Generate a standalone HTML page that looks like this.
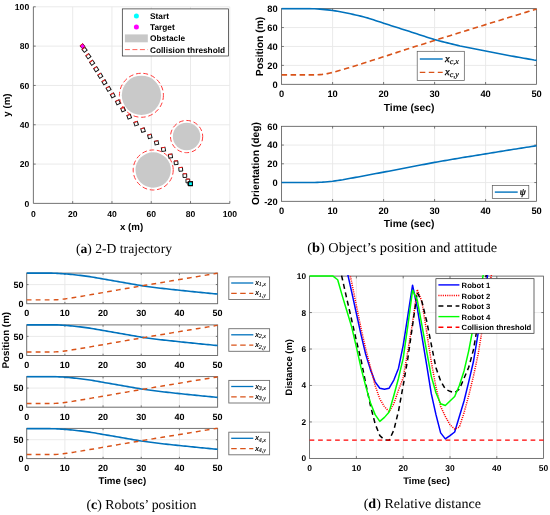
<!DOCTYPE html>
<html lang="en"><head><meta charset="utf-8"><title>Figure</title>
<style>html,body{margin:0;padding:0;background:#fff}svg{display:block}text{text-rendering:geometricPrecision}</style>
</head><body>
<svg width="550" height="515" viewBox="0 0 550 515">
<rect width="550" height="515" fill="#fff"/>
<defs>
<clipPath id="cb1"><rect x="281.1" y="7.45" width="256" height="78.05"/></clipPath>
<clipPath id="cb2"><rect x="281.1" y="125.1" width="256" height="77.4"/></clipPath>
<clipPath id="cc0"><rect x="26.2" y="271.9" width="191.9" height="33"/></clipPath>
<clipPath id="cc1"><rect x="26.2" y="323.7" width="191.9" height="33"/></clipPath>
<clipPath id="cc2"><rect x="26.2" y="375.4" width="191.9" height="33"/></clipPath>
<clipPath id="cc3"><rect x="26.2" y="427.2" width="191.9" height="32.6"/></clipPath>
<clipPath id="cd"><rect x="309.1" y="274.9" width="235" height="184.7"/></clipPath>
</defs>
<line x1="33.4" y1="6.8" x2="33.4" y2="203.4" stroke="#e8e8e8" stroke-width="0.9" />
<line x1="72.68" y1="6.8" x2="72.68" y2="203.4" stroke="#e8e8e8" stroke-width="0.9" />
<line x1="111.96" y1="6.8" x2="111.96" y2="203.4" stroke="#e8e8e8" stroke-width="0.9" />
<line x1="151.24" y1="6.8" x2="151.24" y2="203.4" stroke="#e8e8e8" stroke-width="0.9" />
<line x1="190.52" y1="6.8" x2="190.52" y2="203.4" stroke="#e8e8e8" stroke-width="0.9" />
<line x1="229.8" y1="6.8" x2="229.8" y2="203.4" stroke="#e8e8e8" stroke-width="0.9" />
<line x1="33.4" y1="203.4" x2="229.8" y2="203.4" stroke="#e8e8e8" stroke-width="0.9" />
<line x1="33.4" y1="164.08" x2="229.8" y2="164.08" stroke="#e8e8e8" stroke-width="0.9" />
<line x1="33.4" y1="124.76" x2="229.8" y2="124.76" stroke="#e8e8e8" stroke-width="0.9" />
<line x1="33.4" y1="85.44" x2="229.8" y2="85.44" stroke="#e8e8e8" stroke-width="0.9" />
<line x1="33.4" y1="46.12" x2="229.8" y2="46.12" stroke="#e8e8e8" stroke-width="0.9" />
<line x1="33.4" y1="6.8" x2="229.8" y2="6.8" stroke="#e8e8e8" stroke-width="0.9" />
<circle cx="141.42" cy="95.27" r="19.64" fill="#c9c9c9"/>
<circle cx="141.42" cy="95.27" r="22" fill="none" stroke="#ff3a3a" stroke-width="1" stroke-dasharray="4.8 2.7"/>
<circle cx="186.59" cy="136.56" r="13.75" fill="#c9c9c9"/>
<circle cx="186.59" cy="136.56" r="16.1" fill="none" stroke="#ff3a3a" stroke-width="1" stroke-dasharray="4.8 2.7"/>
<circle cx="153.2" cy="169.98" r="17.68" fill="#c9c9c9"/>
<circle cx="153.2" cy="169.98" r="20.03" fill="none" stroke="#ff3a3a" stroke-width="1" stroke-dasharray="4.8 2.7"/>
<g transform="translate(190.52 183.74) rotate(0)"><rect x="-1.85" y="-1.85" width="3.7" height="3.7" fill="none" stroke="#111" stroke-width="0.95"/><line x1="-1.85" y1="-1.85" x2="1.85" y2="-1.85" stroke="#ff2020" stroke-width="0.95"/></g>
<g transform="translate(190.52 183.74) rotate(0)"><rect x="-1.85" y="-1.85" width="3.7" height="3.7" fill="none" stroke="#111" stroke-width="0.95"/><line x1="-1.85" y1="-1.85" x2="1.85" y2="-1.85" stroke="#ff2020" stroke-width="0.95"/></g>
<g transform="translate(190.52 183.74) rotate(0)"><rect x="-1.85" y="-1.85" width="3.7" height="3.7" fill="none" stroke="#111" stroke-width="0.95"/><line x1="-1.85" y1="-1.85" x2="1.85" y2="-1.85" stroke="#ff2020" stroke-width="0.95"/></g>
<g transform="translate(189.76 183.58) rotate(-0.22)"><rect x="-1.85" y="-1.85" width="3.7" height="3.7" fill="none" stroke="#111" stroke-width="0.95"/><line x1="-1.85" y1="-1.85" x2="1.85" y2="-1.85" stroke="#ff2020" stroke-width="0.95"/></g>
<g transform="translate(187.85 180.95) rotate(-0.95)"><rect x="-1.85" y="-1.85" width="3.7" height="3.7" fill="none" stroke="#111" stroke-width="0.95"/><line x1="-1.85" y1="-1.85" x2="1.85" y2="-1.85" stroke="#ff2020" stroke-width="0.95"/></g>
<g transform="translate(184.84 175.58) rotate(-2.28)"><rect x="-1.85" y="-1.85" width="3.7" height="3.7" fill="none" stroke="#111" stroke-width="0.95"/><line x1="-1.85" y1="-1.85" x2="1.85" y2="-1.85" stroke="#ff2020" stroke-width="0.95"/></g>
<g transform="translate(180.73 169.32) rotate(-4.1)"><rect x="-1.85" y="-1.85" width="3.7" height="3.7" fill="none" stroke="#111" stroke-width="0.95"/><line x1="-1.85" y1="-1.85" x2="1.85" y2="-1.85" stroke="#ff2020" stroke-width="0.95"/></g>
<g transform="translate(176.07 162.76) rotate(-6.1)"><rect x="-1.85" y="-1.85" width="3.7" height="3.7" fill="none" stroke="#111" stroke-width="0.95"/><line x1="-1.85" y1="-1.85" x2="1.85" y2="-1.85" stroke="#ff2020" stroke-width="0.95"/></g>
<g transform="translate(170.47 156.03) rotate(-8.14)"><rect x="-1.85" y="-1.85" width="3.7" height="3.7" fill="none" stroke="#111" stroke-width="0.95"/><line x1="-1.85" y1="-1.85" x2="1.85" y2="-1.85" stroke="#ff2020" stroke-width="0.95"/></g>
<g transform="translate(163.46 149.38) rotate(-10.18)"><rect x="-1.85" y="-1.85" width="3.7" height="3.7" fill="none" stroke="#111" stroke-width="0.95"/><line x1="-1.85" y1="-1.85" x2="1.85" y2="-1.85" stroke="#ff2020" stroke-width="0.95"/></g>
<g transform="translate(156.56 142.82) rotate(-12.24)"><rect x="-1.85" y="-1.85" width="3.7" height="3.7" fill="none" stroke="#111" stroke-width="0.95"/><line x1="-1.85" y1="-1.85" x2="1.85" y2="-1.85" stroke="#ff2020" stroke-width="0.95"/></g>
<g transform="translate(149.8 136.43) rotate(-14.32)"><rect x="-1.85" y="-1.85" width="3.7" height="3.7" fill="none" stroke="#111" stroke-width="0.95"/><line x1="-1.85" y1="-1.85" x2="1.85" y2="-1.85" stroke="#ff2020" stroke-width="0.95"/></g>
<g transform="translate(143.03 130.09) rotate(-16.4)"><rect x="-1.85" y="-1.85" width="3.7" height="3.7" fill="none" stroke="#111" stroke-width="0.95"/><line x1="-1.85" y1="-1.85" x2="1.85" y2="-1.85" stroke="#ff2020" stroke-width="0.95"/></g>
<g transform="translate(136.13 123.64) rotate(-18.48)"><rect x="-1.85" y="-1.85" width="3.7" height="3.7" fill="none" stroke="#111" stroke-width="0.95"/><line x1="-1.85" y1="-1.85" x2="1.85" y2="-1.85" stroke="#ff2020" stroke-width="0.95"/></g>
<g transform="translate(129.21 116.67) rotate(-20.56)"><rect x="-1.85" y="-1.85" width="3.7" height="3.7" fill="none" stroke="#111" stroke-width="0.95"/><line x1="-1.85" y1="-1.85" x2="1.85" y2="-1.85" stroke="#ff2020" stroke-width="0.95"/></g>
<g transform="translate(123.1 109.45) rotate(-22.53)"><rect x="-1.85" y="-1.85" width="3.7" height="3.7" fill="none" stroke="#111" stroke-width="0.95"/><line x1="-1.85" y1="-1.85" x2="1.85" y2="-1.85" stroke="#ff2020" stroke-width="0.95"/></g>
<g transform="translate(117.89 102.34) rotate(-24.41)"><rect x="-1.85" y="-1.85" width="3.7" height="3.7" fill="none" stroke="#111" stroke-width="0.95"/><line x1="-1.85" y1="-1.85" x2="1.85" y2="-1.85" stroke="#ff2020" stroke-width="0.95"/></g>
<g transform="translate(112.77 95.47) rotate(-26.28)"><rect x="-1.85" y="-1.85" width="3.7" height="3.7" fill="none" stroke="#111" stroke-width="0.95"/><line x1="-1.85" y1="-1.85" x2="1.85" y2="-1.85" stroke="#ff2020" stroke-width="0.95"/></g>
<g transform="translate(108.57 88.84) rotate(-28.05)"><rect x="-1.85" y="-1.85" width="3.7" height="3.7" fill="none" stroke="#111" stroke-width="0.95"/><line x1="-1.85" y1="-1.85" x2="1.85" y2="-1.85" stroke="#ff2020" stroke-width="0.95"/></g>
<g transform="translate(104.41 82.29) rotate(-29.81)"><rect x="-1.85" y="-1.85" width="3.7" height="3.7" fill="none" stroke="#111" stroke-width="0.95"/><line x1="-1.85" y1="-1.85" x2="1.85" y2="-1.85" stroke="#ff2020" stroke-width="0.95"/></g>
<g transform="translate(100.29 75.76) rotate(-31.57)"><rect x="-1.85" y="-1.85" width="3.7" height="3.7" fill="none" stroke="#111" stroke-width="0.95"/><line x1="-1.85" y1="-1.85" x2="1.85" y2="-1.85" stroke="#ff2020" stroke-width="0.95"/></g>
<g transform="translate(96.2 69.23) rotate(-33.33)"><rect x="-1.85" y="-1.85" width="3.7" height="3.7" fill="none" stroke="#111" stroke-width="0.95"/><line x1="-1.85" y1="-1.85" x2="1.85" y2="-1.85" stroke="#ff2020" stroke-width="0.95"/></g>
<g transform="translate(92.14 62.71) rotate(-35.08)"><rect x="-1.85" y="-1.85" width="3.7" height="3.7" fill="none" stroke="#111" stroke-width="0.95"/><line x1="-1.85" y1="-1.85" x2="1.85" y2="-1.85" stroke="#ff2020" stroke-width="0.95"/></g>
<g transform="translate(88.36 56.26) rotate(-36.81)"><rect x="-1.85" y="-1.85" width="3.7" height="3.7" fill="none" stroke="#111" stroke-width="0.95"/><line x1="-1.85" y1="-1.85" x2="1.85" y2="-1.85" stroke="#ff2020" stroke-width="0.95"/></g>
<g transform="translate(84.59 49.81) rotate(-38.53)"><rect x="-1.85" y="-1.85" width="3.7" height="3.7" fill="none" stroke="#111" stroke-width="0.95"/><line x1="-1.85" y1="-1.85" x2="1.85" y2="-1.85" stroke="#ff2020" stroke-width="0.95"/></g>
<g transform="translate(82.5 46.12) rotate(-39)"><rect x="-1.8" y="-1.8" width="3.6" height="3.6" fill="#ff00ff" stroke="#7a0030" stroke-width="0.8"/><line x1="-1.8" y1="-1.8" x2="1.8" y2="-1.8" stroke="#ff2020" stroke-width="0.8"/></g>
<g transform="translate(190.52 183.74) rotate(0)"><rect x="-1.85" y="-1.85" width="3.7" height="3.7" fill="#00ffff" stroke="#000" stroke-width="1.0"/></g>
<path d="M33.4 6.8 L33.4 203.4 L229.8 203.4" fill="none" stroke="#505050" stroke-width="0.75" />
<line x1="72.68" y1="203.4" x2="72.68" y2="201.1" stroke="#505050" stroke-width="0.75" />
<line x1="111.96" y1="203.4" x2="111.96" y2="201.1" stroke="#505050" stroke-width="0.75" />
<line x1="151.24" y1="203.4" x2="151.24" y2="201.1" stroke="#505050" stroke-width="0.75" />
<line x1="190.52" y1="203.4" x2="190.52" y2="201.1" stroke="#505050" stroke-width="0.75" />
<line x1="229.8" y1="203.4" x2="229.8" y2="201.1" stroke="#505050" stroke-width="0.75" />
<line x1="33.4" y1="164.08" x2="35.7" y2="164.08" stroke="#505050" stroke-width="0.75" />
<line x1="33.4" y1="124.76" x2="35.7" y2="124.76" stroke="#505050" stroke-width="0.75" />
<line x1="33.4" y1="85.44" x2="35.7" y2="85.44" stroke="#505050" stroke-width="0.75" />
<line x1="33.4" y1="46.12" x2="35.7" y2="46.12" stroke="#505050" stroke-width="0.75" />
<line x1="33.4" y1="6.8" x2="35.7" y2="6.8" stroke="#505050" stroke-width="0.75" />
<text x="33.4" y="216.6" font-size="8.6" font-weight="bold" text-anchor="middle" font-family='"Liberation Sans", Arial, Helvetica, sans-serif' fill="#000" >0</text>
<text x="72.68" y="216.6" font-size="8.6" font-weight="bold" text-anchor="middle" font-family='"Liberation Sans", Arial, Helvetica, sans-serif' fill="#000" >20</text>
<text x="111.96" y="216.6" font-size="8.6" font-weight="bold" text-anchor="middle" font-family='"Liberation Sans", Arial, Helvetica, sans-serif' fill="#000" >40</text>
<text x="151.24" y="216.6" font-size="8.6" font-weight="bold" text-anchor="middle" font-family='"Liberation Sans", Arial, Helvetica, sans-serif' fill="#000" >60</text>
<text x="190.52" y="216.6" font-size="8.6" font-weight="bold" text-anchor="middle" font-family='"Liberation Sans", Arial, Helvetica, sans-serif' fill="#000" >80</text>
<text x="229.8" y="216.6" font-size="8.6" font-weight="bold" text-anchor="middle" font-family='"Liberation Sans", Arial, Helvetica, sans-serif' fill="#000" >100</text>
<text x="29.2" y="206.5" font-size="8.6" font-weight="bold" text-anchor="end" font-family='"Liberation Sans", Arial, Helvetica, sans-serif' fill="#000" >0</text>
<text x="29.2" y="167.18" font-size="8.6" font-weight="bold" text-anchor="end" font-family='"Liberation Sans", Arial, Helvetica, sans-serif' fill="#000" >20</text>
<text x="29.2" y="127.86" font-size="8.6" font-weight="bold" text-anchor="end" font-family='"Liberation Sans", Arial, Helvetica, sans-serif' fill="#000" >40</text>
<text x="29.2" y="88.54" font-size="8.6" font-weight="bold" text-anchor="end" font-family='"Liberation Sans", Arial, Helvetica, sans-serif' fill="#000" >60</text>
<text x="29.2" y="49.22" font-size="8.6" font-weight="bold" text-anchor="end" font-family='"Liberation Sans", Arial, Helvetica, sans-serif' fill="#000" >80</text>
<text x="29.2" y="9.9" font-size="8.6" font-weight="bold" text-anchor="end" font-family='"Liberation Sans", Arial, Helvetica, sans-serif' fill="#000" >100</text>
<text x="131.6" y="230.3" font-size="9.7" font-weight="bold" text-anchor="middle" font-family='"Liberation Sans", Arial, Helvetica, sans-serif' fill="#000" >x (m)</text>
<text transform="translate(10.4 105.1) rotate(-90)" font-size="9.7" font-weight="bold" text-anchor="middle" font-family='"Liberation Sans", Arial, Helvetica, sans-serif' fill="#000" >y (m)</text>
<rect x="122.3" y="8.9" width="106.2" height="47.1" fill="#fff" stroke="#262626" stroke-width="0.7"/>
<circle cx="136.4" cy="15.9" r="2.5" fill="#00ffff"/>
<circle cx="136.4" cy="27.1" r="2.5" fill="#ff00ff"/>
<rect x="124.9" y="34.4" width="22.9" height="7.9" fill="#c8c8c8"/>
<line x1="124.9" y1="49.6" x2="147.8" y2="49.6" stroke="#ff3b30" stroke-width="0.8" stroke-dasharray="5 2.5"/>
<text x="150" y="18.9" font-size="8.3" font-weight="bold" text-anchor="start" font-family='"Liberation Sans", Arial, Helvetica, sans-serif' fill="#000" >Start</text>
<text x="150" y="30.17" font-size="8.3" font-weight="bold" text-anchor="start" font-family='"Liberation Sans", Arial, Helvetica, sans-serif' fill="#000" >Target</text>
<text x="150" y="41.44" font-size="8.3" font-weight="bold" text-anchor="start" font-family='"Liberation Sans", Arial, Helvetica, sans-serif' fill="#000" >Obstacle</text>
<text x="150" y="52.71" font-size="8.3" font-weight="bold" text-anchor="start" font-family='"Liberation Sans", Arial, Helvetica, sans-serif' fill="#000" >Collision threshold</text>
<text x="124" y="253.2" font-size="13.6" font-weight="normal" text-anchor="middle" font-family='"Liberation Serif", "DejaVu Serif", serif' fill="#000" textLength="96" lengthAdjust="spacingAndGlyphs">(<tspan font-weight="bold">a</tspan>) 2-D trajectory</text>
<line x1="281.6" y1="8.65" x2="281.6" y2="84.3" stroke="#e8e8e8" stroke-width="0.9" />
<line x1="332.6" y1="8.65" x2="332.6" y2="84.3" stroke="#e8e8e8" stroke-width="0.9" />
<line x1="383.6" y1="8.65" x2="383.6" y2="84.3" stroke="#e8e8e8" stroke-width="0.9" />
<line x1="434.6" y1="8.65" x2="434.6" y2="84.3" stroke="#e8e8e8" stroke-width="0.9" />
<line x1="485.6" y1="8.65" x2="485.6" y2="84.3" stroke="#e8e8e8" stroke-width="0.9" />
<line x1="536.6" y1="8.65" x2="536.6" y2="84.3" stroke="#e8e8e8" stroke-width="0.9" />
<line x1="281.6" y1="84.3" x2="536.6" y2="84.3" stroke="#e8e8e8" stroke-width="0.9" />
<line x1="281.6" y1="65.39" x2="536.6" y2="65.39" stroke="#e8e8e8" stroke-width="0.9" />
<line x1="281.6" y1="46.48" x2="536.6" y2="46.48" stroke="#e8e8e8" stroke-width="0.9" />
<line x1="281.6" y1="27.56" x2="536.6" y2="27.56" stroke="#e8e8e8" stroke-width="0.9" />
<line x1="281.6" y1="8.65" x2="536.6" y2="8.65" stroke="#e8e8e8" stroke-width="0.9" />
<rect x="281.6" y="8.65" width="255" height="75.65" fill="none" stroke="#505050" stroke-width="0.75"/>
<line x1="332.6" y1="84.3" x2="332.6" y2="82" stroke="#505050" stroke-width="0.75" />
<line x1="332.6" y1="8.65" x2="332.6" y2="10.95" stroke="#505050" stroke-width="0.75" />
<line x1="383.6" y1="84.3" x2="383.6" y2="82" stroke="#505050" stroke-width="0.75" />
<line x1="383.6" y1="8.65" x2="383.6" y2="10.95" stroke="#505050" stroke-width="0.75" />
<line x1="434.6" y1="84.3" x2="434.6" y2="82" stroke="#505050" stroke-width="0.75" />
<line x1="434.6" y1="8.65" x2="434.6" y2="10.95" stroke="#505050" stroke-width="0.75" />
<line x1="485.6" y1="84.3" x2="485.6" y2="82" stroke="#505050" stroke-width="0.75" />
<line x1="485.6" y1="8.65" x2="485.6" y2="10.95" stroke="#505050" stroke-width="0.75" />
<line x1="281.6" y1="65.39" x2="283.9" y2="65.39" stroke="#505050" stroke-width="0.75" />
<line x1="536.6" y1="65.39" x2="534.3" y2="65.39" stroke="#505050" stroke-width="0.75" />
<line x1="281.6" y1="46.48" x2="283.9" y2="46.48" stroke="#505050" stroke-width="0.75" />
<line x1="536.6" y1="46.48" x2="534.3" y2="46.48" stroke="#505050" stroke-width="0.75" />
<line x1="281.6" y1="27.56" x2="283.9" y2="27.56" stroke="#505050" stroke-width="0.75" />
<line x1="536.6" y1="27.56" x2="534.3" y2="27.56" stroke="#505050" stroke-width="0.75" />
<path d="M281.6 8.65 L284.15 8.65 L286.7 8.65 L289.25 8.65 L291.8 8.65 L294.35 8.65 L296.9 8.65 L299.45 8.65 L302 8.65 L304.55 8.65 L307.1 8.65 L309.65 8.65 L312.2 8.68 L314.75 8.82 L317.3 8.98 L319.85 9.15 L322.4 9.33 L324.95 9.6 L327.5 9.88 L330.05 10.16 L332.6 10.47 L335.15 10.87 L337.7 11.3 L340.25 11.72 L342.8 12.17 L345.35 12.7 L347.9 13.25 L350.45 13.8 L353 14.36 L355.55 14.91 L358.1 15.48 L360.65 16.12 L363.2 16.78 L365.75 17.44 L368.3 18.14 L370.85 18.96 L373.4 19.81 L375.95 20.66 L378.5 21.51 L381.05 22.36 L383.6 23.21 L386.15 24.03 L388.7 24.84 L391.25 25.65 L393.8 26.47 L396.35 27.28 L398.9 28.09 L401.45 28.91 L404 29.72 L406.55 30.53 L409.1 31.35 L411.65 32.18 L414.2 33.01 L416.75 33.84 L419.3 34.67 L421.85 35.51 L424.4 36.34 L426.95 37.17 L429.5 38 L432.05 38.83 L434.6 39.63 L437.15 40.33 L439.7 40.98 L442.25 41.62 L444.8 42.24 L447.35 42.87 L449.9 43.5 L452.45 44.12 L455 44.75 L457.55 45.38 L460.1 45.98 L462.65 46.5 L465.2 47 L467.75 47.51 L470.3 48.01 L472.85 48.51 L475.4 49.01 L477.95 49.51 L480.5 50.01 L483.05 50.51 L485.6 51.01 L488.15 51.51 L490.7 52 L493.25 52.49 L495.8 52.98 L498.35 53.47 L500.9 53.96 L503.45 54.46 L506 54.95 L508.55 55.44 L511.1 55.92 L513.65 56.39 L516.2 56.84 L518.75 57.29 L521.3 57.75 L523.85 58.2 L526.4 58.65 L528.95 59.11 L531.5 59.56 L534.05 60.02 L536.6 60.38" fill="none" stroke="#0072BD" stroke-width="1.6" clip-path="url(#cb1)" stroke-linejoin="round"/>
<path d="M281.6 74.84 L284.15 74.84 L286.7 74.84 L289.25 74.84 L291.8 74.84 L294.35 74.84 L296.9 74.84 L299.45 74.84 L302 74.84 L304.55 74.84 L307.1 74.84 L309.65 74.84 L312.2 74.84 L314.75 74.84 L317.3 74.8 L319.85 74.62 L322.4 74.4 L324.95 74.12 L327.5 73.61 L330.05 73.05 L332.6 72.45 L335.15 71.77 L337.7 71.06 L340.25 70.35 L342.8 69.63 L345.35 68.85 L347.9 68.07 L350.45 67.28 L353 66.49 L355.55 65.7 L358.1 64.91 L360.65 64.1 L363.2 63.29 L365.75 62.47 L368.3 61.66 L370.85 60.85 L373.4 60.04 L375.95 59.22 L378.5 58.41 L381.05 57.6 L383.6 56.78 L386.15 55.95 L388.7 55.12 L391.25 54.29 L393.8 53.45 L396.35 52.62 L398.9 51.79 L401.45 50.96 L404 50.13 L406.55 49.29 L409.1 48.47 L411.65 47.66 L414.2 46.85 L416.75 46.05 L419.3 45.25 L421.85 44.44 L424.4 43.64 L426.95 42.83 L429.5 42.03 L432.05 41.23 L434.6 40.42 L437.15 39.63 L439.7 38.83 L442.25 38.04 L444.8 37.25 L447.35 36.45 L449.9 35.66 L452.45 34.86 L455 34.07 L457.55 33.27 L460.1 32.48 L462.65 31.69 L465.2 30.91 L467.75 30.13 L470.3 29.34 L472.85 28.56 L475.4 27.77 L477.95 26.99 L480.5 26.2 L483.05 25.42 L485.6 24.63 L488.15 23.85 L490.7 23.06 L493.25 22.28 L495.8 21.49 L498.35 20.71 L500.9 19.92 L503.45 19.14 L506 18.35 L508.55 17.57 L511.1 16.78 L513.65 16.01 L516.2 15.23 L518.75 14.46 L521.3 13.68 L523.85 12.91 L526.4 12.13 L528.95 11.35 L531.5 10.58 L534.05 9.8 L536.6 9.18" fill="none" stroke="#D95319" stroke-width="1.6" clip-path="url(#cb1)" stroke-dasharray="5.5 3.5"/>
<text x="281.6" y="97.2" font-size="9.3" font-weight="bold" text-anchor="middle" font-family='"Liberation Sans", Arial, Helvetica, sans-serif' fill="#000" >0</text>
<text x="332.6" y="97.2" font-size="9.3" font-weight="bold" text-anchor="middle" font-family='"Liberation Sans", Arial, Helvetica, sans-serif' fill="#000" >10</text>
<text x="383.6" y="97.2" font-size="9.3" font-weight="bold" text-anchor="middle" font-family='"Liberation Sans", Arial, Helvetica, sans-serif' fill="#000" >20</text>
<text x="434.6" y="97.2" font-size="9.3" font-weight="bold" text-anchor="middle" font-family='"Liberation Sans", Arial, Helvetica, sans-serif' fill="#000" >30</text>
<text x="485.6" y="97.2" font-size="9.3" font-weight="bold" text-anchor="middle" font-family='"Liberation Sans", Arial, Helvetica, sans-serif' fill="#000" >40</text>
<text x="536.6" y="97.2" font-size="9.3" font-weight="bold" text-anchor="middle" font-family='"Liberation Sans", Arial, Helvetica, sans-serif' fill="#000" >50</text>
<text x="277.6" y="87.6" font-size="9.3" font-weight="bold" text-anchor="end" font-family='"Liberation Sans", Arial, Helvetica, sans-serif' fill="#000" >0</text>
<text x="277.6" y="68.69" font-size="9.3" font-weight="bold" text-anchor="end" font-family='"Liberation Sans", Arial, Helvetica, sans-serif' fill="#000" >20</text>
<text x="277.6" y="49.77" font-size="9.3" font-weight="bold" text-anchor="end" font-family='"Liberation Sans", Arial, Helvetica, sans-serif' fill="#000" >40</text>
<text x="277.6" y="30.86" font-size="9.3" font-weight="bold" text-anchor="end" font-family='"Liberation Sans", Arial, Helvetica, sans-serif' fill="#000" >60</text>
<text x="277.6" y="11.95" font-size="9.3" font-weight="bold" text-anchor="end" font-family='"Liberation Sans", Arial, Helvetica, sans-serif' fill="#000" >80</text>
<text x="409.1" y="111.3" font-size="10.3" font-weight="bold" text-anchor="middle" font-family='"Liberation Sans", Arial, Helvetica, sans-serif' fill="#000" >Time (sec)</text>
<text transform="translate(263.3 46.48) rotate(-90)" font-size="10.3" font-weight="bold" text-anchor="middle" font-family='"Liberation Sans", Arial, Helvetica, sans-serif' fill="#000" >Position (m)</text>
<rect x="417.2" y="51.3" width="47.1" height="29.1" fill="#fff" stroke="#555" stroke-width="0.7"/>
<line x1="419.8" y1="59" x2="442.7" y2="59" stroke="#0072BD" stroke-width="1.4" />
<line x1="419.8" y1="72.4" x2="442.7" y2="72.4" stroke="#D95319" stroke-width="1.4" stroke-dasharray="5.5 3.5"/>
<text x="445" y="61.5" font-family='"Liberation Serif", "DejaVu Serif", serif' font-style="italic" font-size="10.6" fill="#000" stroke="#000" stroke-width="0.3">x<tspan font-size="8" dy="2.1" stroke-width="0.18">c,x</tspan></text>
<text x="445" y="74.6" font-family='"Liberation Serif", "DejaVu Serif", serif' font-style="italic" font-size="10.6" fill="#000" stroke="#000" stroke-width="0.3">x<tspan font-size="8" dy="2.1" stroke-width="0.18">c,y</tspan></text>
<line x1="281.6" y1="126.3" x2="281.6" y2="201.3" stroke="#e8e8e8" stroke-width="0.9" />
<line x1="332.6" y1="126.3" x2="332.6" y2="201.3" stroke="#e8e8e8" stroke-width="0.9" />
<line x1="383.6" y1="126.3" x2="383.6" y2="201.3" stroke="#e8e8e8" stroke-width="0.9" />
<line x1="434.6" y1="126.3" x2="434.6" y2="201.3" stroke="#e8e8e8" stroke-width="0.9" />
<line x1="485.6" y1="126.3" x2="485.6" y2="201.3" stroke="#e8e8e8" stroke-width="0.9" />
<line x1="536.6" y1="126.3" x2="536.6" y2="201.3" stroke="#e8e8e8" stroke-width="0.9" />
<line x1="281.6" y1="201.3" x2="536.6" y2="201.3" stroke="#e8e8e8" stroke-width="0.9" />
<line x1="281.6" y1="182.55" x2="536.6" y2="182.55" stroke="#e8e8e8" stroke-width="0.9" />
<line x1="281.6" y1="163.8" x2="536.6" y2="163.8" stroke="#e8e8e8" stroke-width="0.9" />
<line x1="281.6" y1="145.05" x2="536.6" y2="145.05" stroke="#e8e8e8" stroke-width="0.9" />
<line x1="281.6" y1="126.3" x2="536.6" y2="126.3" stroke="#e8e8e8" stroke-width="0.9" />
<rect x="281.6" y="126.3" width="255" height="75" fill="none" stroke="#505050" stroke-width="0.75"/>
<line x1="332.6" y1="201.3" x2="332.6" y2="199" stroke="#505050" stroke-width="0.75" />
<line x1="332.6" y1="126.3" x2="332.6" y2="128.6" stroke="#505050" stroke-width="0.75" />
<line x1="383.6" y1="201.3" x2="383.6" y2="199" stroke="#505050" stroke-width="0.75" />
<line x1="383.6" y1="126.3" x2="383.6" y2="128.6" stroke="#505050" stroke-width="0.75" />
<line x1="434.6" y1="201.3" x2="434.6" y2="199" stroke="#505050" stroke-width="0.75" />
<line x1="434.6" y1="126.3" x2="434.6" y2="128.6" stroke="#505050" stroke-width="0.75" />
<line x1="485.6" y1="201.3" x2="485.6" y2="199" stroke="#505050" stroke-width="0.75" />
<line x1="485.6" y1="126.3" x2="485.6" y2="128.6" stroke="#505050" stroke-width="0.75" />
<line x1="281.6" y1="182.55" x2="283.9" y2="182.55" stroke="#505050" stroke-width="0.75" />
<line x1="536.6" y1="182.55" x2="534.3" y2="182.55" stroke="#505050" stroke-width="0.75" />
<line x1="281.6" y1="163.8" x2="283.9" y2="163.8" stroke="#505050" stroke-width="0.75" />
<line x1="536.6" y1="163.8" x2="534.3" y2="163.8" stroke="#505050" stroke-width="0.75" />
<line x1="281.6" y1="145.05" x2="283.9" y2="145.05" stroke="#505050" stroke-width="0.75" />
<line x1="536.6" y1="145.05" x2="534.3" y2="145.05" stroke="#505050" stroke-width="0.75" />
<path d="M281.6 182.55 L284.15 182.55 L286.7 182.55 L289.25 182.55 L291.8 182.55 L294.35 182.55 L296.9 182.55 L299.45 182.55 L302 182.55 L304.55 182.55 L307.1 182.55 L309.65 182.55 L312.2 182.53 L314.75 182.46 L317.3 182.36 L319.85 182.27 L322.4 182.15 L324.95 181.94 L327.5 181.71 L330.05 181.47 L332.6 181.21 L335.15 180.86 L337.7 180.49 L340.25 180.11 L342.8 179.72 L345.35 179.27 L347.9 178.8 L350.45 178.33 L353 177.86 L355.55 177.39 L358.1 176.92 L360.65 176.45 L363.2 175.97 L365.75 175.49 L368.3 175.01 L370.85 174.53 L373.4 174.06 L375.95 173.58 L378.5 173.1 L381.05 172.62 L383.6 172.14 L386.15 171.66 L388.7 171.17 L391.25 170.68 L393.8 170.19 L396.35 169.71 L398.9 169.22 L401.45 168.73 L404 168.24 L406.55 167.76 L409.1 167.27 L411.65 166.78 L414.2 166.29 L416.75 165.81 L419.3 165.32 L421.85 164.83 L424.4 164.34 L426.95 163.86 L429.5 163.37 L432.05 162.88 L434.6 162.4 L437.15 161.95 L439.7 161.51 L442.25 161.07 L444.8 160.63 L447.35 160.19 L449.9 159.75 L452.45 159.31 L455 158.87 L457.55 158.43 L460.1 157.99 L462.65 157.58 L465.2 157.16 L467.75 156.75 L470.3 156.34 L472.85 155.93 L475.4 155.51 L477.95 155.1 L480.5 154.69 L483.05 154.28 L485.6 153.86 L488.15 153.45 L490.7 153.04 L493.25 152.62 L495.8 152.21 L498.35 151.8 L500.9 151.39 L503.45 150.98 L506 150.56 L508.55 150.15 L511.1 149.74 L513.65 149.33 L516.2 148.93 L518.75 148.53 L521.3 148.12 L523.85 147.72 L526.4 147.32 L528.95 146.92 L531.5 146.51 L534.05 146.11 L536.6 145.78" fill="none" stroke="#0072BD" stroke-width="1.6" clip-path="url(#cb2)"/>
<text x="281.6" y="214.2" font-size="9.3" font-weight="bold" text-anchor="middle" font-family='"Liberation Sans", Arial, Helvetica, sans-serif' fill="#000" >0</text>
<text x="332.6" y="214.2" font-size="9.3" font-weight="bold" text-anchor="middle" font-family='"Liberation Sans", Arial, Helvetica, sans-serif' fill="#000" >10</text>
<text x="383.6" y="214.2" font-size="9.3" font-weight="bold" text-anchor="middle" font-family='"Liberation Sans", Arial, Helvetica, sans-serif' fill="#000" >20</text>
<text x="434.6" y="214.2" font-size="9.3" font-weight="bold" text-anchor="middle" font-family='"Liberation Sans", Arial, Helvetica, sans-serif' fill="#000" >30</text>
<text x="485.6" y="214.2" font-size="9.3" font-weight="bold" text-anchor="middle" font-family='"Liberation Sans", Arial, Helvetica, sans-serif' fill="#000" >40</text>
<text x="536.6" y="214.2" font-size="9.3" font-weight="bold" text-anchor="middle" font-family='"Liberation Sans", Arial, Helvetica, sans-serif' fill="#000" >50</text>
<text x="277.6" y="204.6" font-size="9.3" font-weight="bold" text-anchor="end" font-family='"Liberation Sans", Arial, Helvetica, sans-serif' fill="#000" >-20</text>
<text x="277.6" y="185.85" font-size="9.3" font-weight="bold" text-anchor="end" font-family='"Liberation Sans", Arial, Helvetica, sans-serif' fill="#000" >0</text>
<text x="277.6" y="167.1" font-size="9.3" font-weight="bold" text-anchor="end" font-family='"Liberation Sans", Arial, Helvetica, sans-serif' fill="#000" >20</text>
<text x="277.6" y="148.35" font-size="9.3" font-weight="bold" text-anchor="end" font-family='"Liberation Sans", Arial, Helvetica, sans-serif' fill="#000" >40</text>
<text x="277.6" y="129.6" font-size="9.3" font-weight="bold" text-anchor="end" font-family='"Liberation Sans", Arial, Helvetica, sans-serif' fill="#000" >60</text>
<text x="409.1" y="227.3" font-size="10.3" font-weight="bold" text-anchor="middle" font-family='"Liberation Sans", Arial, Helvetica, sans-serif' fill="#000" >Time (sec)</text>
<text transform="translate(259 163.5) rotate(-90)" font-size="10.3" font-weight="bold" text-anchor="middle" font-family='"Liberation Sans", Arial, Helvetica, sans-serif' fill="#000" >Orientation (deg)</text>
<rect x="492.3" y="185.5" width="36.5" height="13" fill="#fff" stroke="#555" stroke-width="0.7"/>
<line x1="494.8" y1="192.1" x2="517.7" y2="192.1" stroke="#0072BD" stroke-width="1.4" />
<text x="522.8" y="195.3" font-family='"Liberation Serif", "DejaVu Serif", serif' font-style="italic" font-size="9.5" text-anchor="middle" fill="#000" stroke="#000" stroke-width="0.35">ψ</text>
<text x="402.2" y="252.4" font-size="13.6" font-weight="normal" text-anchor="middle" font-family='"Liberation Serif", "DejaVu Serif", serif' fill="#000" textLength="190" lengthAdjust="spacingAndGlyphs">(<tspan font-weight="bold">b</tspan>) Object’s position and attitude</text>
<line x1="26.7" y1="273.1" x2="26.7" y2="303.7" stroke="#e8e8e8" stroke-width="0.9" />
<line x1="64.88" y1="273.1" x2="64.88" y2="303.7" stroke="#e8e8e8" stroke-width="0.9" />
<line x1="103.06" y1="273.1" x2="103.06" y2="303.7" stroke="#e8e8e8" stroke-width="0.9" />
<line x1="141.24" y1="273.1" x2="141.24" y2="303.7" stroke="#e8e8e8" stroke-width="0.9" />
<line x1="179.42" y1="273.1" x2="179.42" y2="303.7" stroke="#e8e8e8" stroke-width="0.9" />
<line x1="217.6" y1="273.1" x2="217.6" y2="303.7" stroke="#e8e8e8" stroke-width="0.9" />
<line x1="26.7" y1="303.7" x2="217.6" y2="303.7" stroke="#e8e8e8" stroke-width="0.9" />
<line x1="26.7" y1="284.57" x2="217.6" y2="284.57" stroke="#e8e8e8" stroke-width="0.9" />
<rect x="26.7" y="273.1" width="190.9" height="30.6" fill="none" stroke="#6e6e6e" stroke-width="0.95"/>
<line x1="64.88" y1="303.7" x2="64.88" y2="301.9" stroke="#6e6e6e" stroke-width="0.95" />
<line x1="64.88" y1="273.1" x2="64.88" y2="274.9" stroke="#6e6e6e" stroke-width="0.95" />
<line x1="103.06" y1="303.7" x2="103.06" y2="301.9" stroke="#6e6e6e" stroke-width="0.95" />
<line x1="103.06" y1="273.1" x2="103.06" y2="274.9" stroke="#6e6e6e" stroke-width="0.95" />
<line x1="141.24" y1="303.7" x2="141.24" y2="301.9" stroke="#6e6e6e" stroke-width="0.95" />
<line x1="141.24" y1="273.1" x2="141.24" y2="274.9" stroke="#6e6e6e" stroke-width="0.95" />
<line x1="179.42" y1="303.7" x2="179.42" y2="301.9" stroke="#6e6e6e" stroke-width="0.95" />
<line x1="179.42" y1="273.1" x2="179.42" y2="274.9" stroke="#6e6e6e" stroke-width="0.95" />
<line x1="26.7" y1="284.57" x2="28.5" y2="284.57" stroke="#6e6e6e" stroke-width="0.95" />
<line x1="217.6" y1="284.57" x2="215.8" y2="284.57" stroke="#6e6e6e" stroke-width="0.95" />
<path d="M26.7 273.1 L28.61 273.1 L30.52 273.1 L32.43 273.1 L34.34 273.1 L36.24 273.1 L38.15 273.1 L40.06 273.1 L41.97 273.1 L43.88 273.1 L45.79 273.1 L47.7 273.1 L49.61 273.11 L51.52 273.17 L53.43 273.23 L55.34 273.3 L57.24 273.38 L59.15 273.48 L61.06 273.6 L62.97 273.71 L64.88 273.84 L66.79 274 L68.7 274.17 L70.61 274.34 L72.52 274.53 L74.42 274.74 L76.33 274.96 L78.24 275.18 L80.15 275.41 L82.06 275.63 L83.97 275.86 L85.88 276.12 L87.79 276.39 L89.7 276.66 L91.61 276.94 L93.52 277.27 L95.42 277.61 L97.33 277.96 L99.24 278.3 L101.15 278.65 L103.06 278.99 L104.97 279.32 L106.88 279.65 L108.79 279.98 L110.7 280.31 L112.61 280.64 L114.51 280.96 L116.42 281.29 L118.33 281.62 L120.24 281.95 L122.15 282.28 L124.06 282.62 L125.97 282.95 L127.88 283.29 L129.79 283.63 L131.69 283.96 L133.6 284.3 L135.51 284.64 L137.42 284.97 L139.33 285.31 L141.24 285.63 L143.15 285.91 L145.06 286.18 L146.97 286.43 L148.88 286.69 L150.78 286.94 L152.69 287.2 L154.6 287.45 L156.51 287.7 L158.42 287.96 L160.33 288.2 L162.24 288.41 L164.15 288.61 L166.06 288.82 L167.97 289.02 L169.88 289.22 L171.78 289.43 L173.69 289.63 L175.6 289.83 L177.51 290.03 L179.42 290.24 L181.33 290.43 L183.24 290.63 L185.15 290.83 L187.06 291.03 L188.97 291.23 L190.87 291.43 L192.78 291.63 L194.69 291.83 L196.6 292.03 L198.51 292.22 L200.42 292.41 L202.33 292.59 L204.24 292.78 L206.15 292.96 L208.05 293.14 L209.96 293.33 L211.87 293.51 L213.78 293.69 L215.69 293.88 L217.6 294.03" fill="none" stroke="#0072BD" stroke-width="1.6" clip-path="url(#cc0)"/>
<path d="M26.7 299.88 L28.61 299.88 L30.52 299.88 L32.43 299.88 L34.34 299.88 L36.24 299.88 L38.15 299.88 L40.06 299.88 L41.97 299.88 L43.88 299.88 L45.79 299.88 L47.7 299.88 L49.61 299.88 L51.52 299.87 L53.43 299.86 L55.34 299.79 L57.24 299.7 L59.15 299.58 L61.06 299.38 L62.97 299.15 L64.88 298.91 L66.79 298.63 L68.7 298.34 L70.61 298.06 L72.52 297.77 L74.42 297.45 L76.33 297.13 L78.24 296.81 L80.15 296.5 L82.06 296.18 L83.97 295.86 L85.88 295.53 L87.79 295.2 L89.7 294.87 L91.61 294.54 L93.52 294.21 L95.42 293.89 L97.33 293.56 L99.24 293.23 L101.15 292.9 L103.06 292.57 L104.97 292.23 L106.88 291.9 L108.79 291.56 L110.7 291.22 L112.61 290.89 L114.51 290.55 L116.42 290.21 L118.33 289.88 L120.24 289.54 L122.15 289.21 L124.06 288.88 L125.97 288.55 L127.88 288.23 L129.79 287.9 L131.69 287.58 L133.6 287.25 L135.51 286.93 L137.42 286.6 L139.33 286.28 L141.24 285.95 L143.15 285.63 L145.06 285.31 L146.97 284.99 L148.88 284.67 L150.78 284.35 L152.69 284.02 L154.6 283.7 L156.51 283.38 L158.42 283.06 L160.33 282.74 L162.24 282.42 L164.15 282.1 L166.06 281.79 L167.97 281.47 L169.88 281.15 L171.78 280.83 L173.69 280.52 L175.6 280.2 L177.51 279.88 L179.42 279.56 L181.33 279.25 L183.24 278.93 L185.15 278.61 L187.06 278.29 L188.97 277.98 L190.87 277.66 L192.78 277.34 L194.69 277.02 L196.6 276.71 L198.51 276.39 L200.42 276.08 L202.33 275.76 L204.24 275.45 L206.15 275.13 L208.05 274.82 L209.96 274.51 L211.87 274.19 L213.78 273.88 L215.69 273.57 L217.6 273.31" fill="none" stroke="#D95319" stroke-width="1.45" clip-path="url(#cc0)" stroke-dasharray="4.8 4.2"/>
<text x="26.7" y="316.2" font-size="9.0" font-weight="bold" text-anchor="middle" font-family='"Liberation Sans", Arial, Helvetica, sans-serif' fill="#000" >0</text>
<text x="64.88" y="316.2" font-size="9.0" font-weight="bold" text-anchor="middle" font-family='"Liberation Sans", Arial, Helvetica, sans-serif' fill="#000" >10</text>
<text x="103.06" y="316.2" font-size="9.0" font-weight="bold" text-anchor="middle" font-family='"Liberation Sans", Arial, Helvetica, sans-serif' fill="#000" >20</text>
<text x="141.24" y="316.2" font-size="9.0" font-weight="bold" text-anchor="middle" font-family='"Liberation Sans", Arial, Helvetica, sans-serif' fill="#000" >30</text>
<text x="179.42" y="316.2" font-size="9.0" font-weight="bold" text-anchor="middle" font-family='"Liberation Sans", Arial, Helvetica, sans-serif' fill="#000" >40</text>
<text x="217.6" y="316.2" font-size="9.0" font-weight="bold" text-anchor="middle" font-family='"Liberation Sans", Arial, Helvetica, sans-serif' fill="#000" >50</text>
<text x="23.5" y="307" font-size="9.0" font-weight="bold" text-anchor="end" font-family='"Liberation Sans", Arial, Helvetica, sans-serif' fill="#000" >0</text>
<text x="23.5" y="287.88" font-size="9.0" font-weight="bold" text-anchor="end" font-family='"Liberation Sans", Arial, Helvetica, sans-serif' fill="#000" >50</text>
<rect x="228.8" y="276.9" width="40.8" height="22.6" fill="#fff" stroke="#6e6e6e" stroke-width="0.9"/>
<line x1="231.2" y1="283" x2="253.3" y2="283" stroke="#0072BD" stroke-width="1.3" />
<line x1="231.2" y1="293.3" x2="253.3" y2="293.3" stroke="#D95319" stroke-width="1.3" stroke-dasharray="5.5 3.5"/>
<text x="255.2" y="285" font-family='"Liberation Serif", "DejaVu Serif", serif' font-style="italic" font-size="8.2" fill="#000" stroke="#000" stroke-width="0.22">x<tspan font-size="6.0" dy="1.4" stroke-width="0.13">1,x</tspan></text>
<text x="255.2" y="295.3" font-family='"Liberation Serif", "DejaVu Serif", serif' font-style="italic" font-size="8.2" fill="#000" stroke="#000" stroke-width="0.22">x<tspan font-size="6.0" dy="1.4" stroke-width="0.13">1,y</tspan></text>
<line x1="26.7" y1="324.9" x2="26.7" y2="355.5" stroke="#e8e8e8" stroke-width="0.9" />
<line x1="64.88" y1="324.9" x2="64.88" y2="355.5" stroke="#e8e8e8" stroke-width="0.9" />
<line x1="103.06" y1="324.9" x2="103.06" y2="355.5" stroke="#e8e8e8" stroke-width="0.9" />
<line x1="141.24" y1="324.9" x2="141.24" y2="355.5" stroke="#e8e8e8" stroke-width="0.9" />
<line x1="179.42" y1="324.9" x2="179.42" y2="355.5" stroke="#e8e8e8" stroke-width="0.9" />
<line x1="217.6" y1="324.9" x2="217.6" y2="355.5" stroke="#e8e8e8" stroke-width="0.9" />
<line x1="26.7" y1="355.5" x2="217.6" y2="355.5" stroke="#e8e8e8" stroke-width="0.9" />
<line x1="26.7" y1="336.38" x2="217.6" y2="336.38" stroke="#e8e8e8" stroke-width="0.9" />
<rect x="26.7" y="324.9" width="190.9" height="30.6" fill="none" stroke="#6e6e6e" stroke-width="0.95"/>
<line x1="64.88" y1="355.5" x2="64.88" y2="353.7" stroke="#6e6e6e" stroke-width="0.95" />
<line x1="64.88" y1="324.9" x2="64.88" y2="326.7" stroke="#6e6e6e" stroke-width="0.95" />
<line x1="103.06" y1="355.5" x2="103.06" y2="353.7" stroke="#6e6e6e" stroke-width="0.95" />
<line x1="103.06" y1="324.9" x2="103.06" y2="326.7" stroke="#6e6e6e" stroke-width="0.95" />
<line x1="141.24" y1="355.5" x2="141.24" y2="353.7" stroke="#6e6e6e" stroke-width="0.95" />
<line x1="141.24" y1="324.9" x2="141.24" y2="326.7" stroke="#6e6e6e" stroke-width="0.95" />
<line x1="179.42" y1="355.5" x2="179.42" y2="353.7" stroke="#6e6e6e" stroke-width="0.95" />
<line x1="179.42" y1="324.9" x2="179.42" y2="326.7" stroke="#6e6e6e" stroke-width="0.95" />
<line x1="26.7" y1="336.38" x2="28.5" y2="336.38" stroke="#6e6e6e" stroke-width="0.95" />
<line x1="217.6" y1="336.38" x2="215.8" y2="336.38" stroke="#6e6e6e" stroke-width="0.95" />
<path d="M26.7 324.9 L28.61 324.9 L30.52 324.9 L32.43 324.9 L34.34 324.9 L36.24 324.9 L38.15 324.9 L40.06 324.9 L41.97 324.9 L43.88 324.9 L45.79 324.9 L47.7 324.9 L49.61 324.9 L51.52 324.9 L53.43 324.9 L55.34 324.9 L57.24 324.9 L59.15 324.98 L61.06 325.09 L62.97 325.21 L64.88 325.33 L66.79 325.49 L68.7 325.67 L70.61 325.84 L72.52 326.02 L74.42 326.23 L76.33 326.46 L78.24 326.68 L80.15 326.9 L82.06 327.12 L83.97 327.36 L85.88 327.62 L87.79 327.88 L89.7 328.15 L91.61 328.43 L93.52 328.76 L95.42 329.11 L97.33 329.45 L99.24 329.8 L101.15 330.14 L103.06 330.48 L104.97 330.81 L106.88 331.14 L108.79 331.47 L110.7 331.8 L112.61 332.13 L114.51 332.46 L116.42 332.79 L118.33 333.12 L120.24 333.45 L122.15 333.78 L124.06 334.11 L125.97 334.45 L127.88 334.78 L129.79 335.12 L131.69 335.46 L133.6 335.79 L135.51 336.13 L137.42 336.47 L139.33 336.8 L141.24 337.13 L143.15 337.41 L145.06 337.67 L146.97 337.93 L148.88 338.18 L150.78 338.44 L152.69 338.69 L154.6 338.94 L156.51 339.2 L158.42 339.45 L160.33 339.69 L162.24 339.91 L164.15 340.11 L166.06 340.31 L167.97 340.51 L169.88 340.72 L171.78 340.92 L173.69 341.12 L175.6 341.32 L177.51 341.53 L179.42 341.73 L181.33 341.93 L183.24 342.13 L185.15 342.33 L187.06 342.53 L188.97 342.72 L190.87 342.92 L192.78 343.12 L194.69 343.32 L196.6 343.52 L198.51 343.72 L200.42 343.9 L202.33 344.09 L204.24 344.27 L206.15 344.45 L208.05 344.64 L209.96 344.82 L211.87 345 L213.78 345.19 L215.69 345.37 L217.6 345.52" fill="none" stroke="#0072BD" stroke-width="1.6" clip-path="url(#cc1)"/>
<path d="M26.7 351.94 L28.61 351.94 L30.52 351.94 L32.43 351.94 L34.34 351.94 L36.24 351.94 L38.15 351.94 L40.06 351.94 L41.97 351.94 L43.88 351.94 L45.79 351.94 L47.7 351.94 L49.61 351.94 L51.52 351.94 L53.43 351.93 L55.34 351.85 L57.24 351.76 L59.15 351.65 L61.06 351.45 L62.97 351.22 L64.88 350.98 L66.79 350.7 L68.7 350.41 L70.61 350.13 L72.52 349.83 L74.42 349.52 L76.33 349.2 L78.24 348.88 L80.15 348.56 L82.06 348.25 L83.97 347.92 L85.88 347.6 L87.79 347.27 L89.7 346.94 L91.61 346.61 L93.52 346.28 L95.42 345.95 L97.33 345.62 L99.24 345.29 L101.15 344.97 L103.06 344.64 L104.97 344.3 L106.88 343.96 L108.79 343.63 L110.7 343.29 L112.61 342.95 L114.51 342.62 L116.42 342.28 L118.33 341.94 L120.24 341.61 L122.15 341.27 L124.06 340.95 L125.97 340.62 L127.88 340.3 L129.79 339.97 L131.69 339.65 L133.6 339.32 L135.51 339 L137.42 338.67 L139.33 338.34 L141.24 338.02 L143.15 337.7 L145.06 337.38 L146.97 337.06 L148.88 336.73 L150.78 336.41 L152.69 336.09 L154.6 335.77 L156.51 335.45 L158.42 335.13 L160.33 334.81 L162.24 334.49 L164.15 334.17 L166.06 333.85 L167.97 333.54 L169.88 333.22 L171.78 332.9 L173.69 332.58 L175.6 332.27 L177.51 331.95 L179.42 331.63 L181.33 331.31 L183.24 331 L185.15 330.68 L187.06 330.36 L188.97 330.04 L190.87 329.73 L192.78 329.41 L194.69 329.09 L196.6 328.77 L198.51 328.46 L200.42 328.14 L202.33 327.83 L204.24 327.52 L206.15 327.2 L208.05 326.89 L209.96 326.58 L211.87 326.26 L213.78 325.95 L215.69 325.63 L217.6 325.38" fill="none" stroke="#D95319" stroke-width="1.45" clip-path="url(#cc1)" stroke-dasharray="4.8 4.2"/>
<text x="26.7" y="368" font-size="9.0" font-weight="bold" text-anchor="middle" font-family='"Liberation Sans", Arial, Helvetica, sans-serif' fill="#000" >0</text>
<text x="64.88" y="368" font-size="9.0" font-weight="bold" text-anchor="middle" font-family='"Liberation Sans", Arial, Helvetica, sans-serif' fill="#000" >10</text>
<text x="103.06" y="368" font-size="9.0" font-weight="bold" text-anchor="middle" font-family='"Liberation Sans", Arial, Helvetica, sans-serif' fill="#000" >20</text>
<text x="141.24" y="368" font-size="9.0" font-weight="bold" text-anchor="middle" font-family='"Liberation Sans", Arial, Helvetica, sans-serif' fill="#000" >30</text>
<text x="179.42" y="368" font-size="9.0" font-weight="bold" text-anchor="middle" font-family='"Liberation Sans", Arial, Helvetica, sans-serif' fill="#000" >40</text>
<text x="217.6" y="368" font-size="9.0" font-weight="bold" text-anchor="middle" font-family='"Liberation Sans", Arial, Helvetica, sans-serif' fill="#000" >50</text>
<text x="23.5" y="358.8" font-size="9.0" font-weight="bold" text-anchor="end" font-family='"Liberation Sans", Arial, Helvetica, sans-serif' fill="#000" >0</text>
<text x="23.5" y="339.68" font-size="9.0" font-weight="bold" text-anchor="end" font-family='"Liberation Sans", Arial, Helvetica, sans-serif' fill="#000" >50</text>
<rect x="228.8" y="328.7" width="40.8" height="22.6" fill="#fff" stroke="#6e6e6e" stroke-width="0.9"/>
<line x1="231.2" y1="334.8" x2="253.3" y2="334.8" stroke="#0072BD" stroke-width="1.3" />
<line x1="231.2" y1="345.1" x2="253.3" y2="345.1" stroke="#D95319" stroke-width="1.3" stroke-dasharray="5.5 3.5"/>
<text x="255.2" y="336.8" font-family='"Liberation Serif", "DejaVu Serif", serif' font-style="italic" font-size="8.2" fill="#000" stroke="#000" stroke-width="0.22">x<tspan font-size="6.0" dy="1.4" stroke-width="0.13">2,x</tspan></text>
<text x="255.2" y="347.1" font-family='"Liberation Serif", "DejaVu Serif", serif' font-style="italic" font-size="8.2" fill="#000" stroke="#000" stroke-width="0.22">x<tspan font-size="6.0" dy="1.4" stroke-width="0.13">2,y</tspan></text>
<line x1="26.7" y1="376.6" x2="26.7" y2="407.2" stroke="#e8e8e8" stroke-width="0.9" />
<line x1="64.88" y1="376.6" x2="64.88" y2="407.2" stroke="#e8e8e8" stroke-width="0.9" />
<line x1="103.06" y1="376.6" x2="103.06" y2="407.2" stroke="#e8e8e8" stroke-width="0.9" />
<line x1="141.24" y1="376.6" x2="141.24" y2="407.2" stroke="#e8e8e8" stroke-width="0.9" />
<line x1="179.42" y1="376.6" x2="179.42" y2="407.2" stroke="#e8e8e8" stroke-width="0.9" />
<line x1="217.6" y1="376.6" x2="217.6" y2="407.2" stroke="#e8e8e8" stroke-width="0.9" />
<line x1="26.7" y1="407.2" x2="217.6" y2="407.2" stroke="#e8e8e8" stroke-width="0.9" />
<line x1="26.7" y1="388.07" x2="217.6" y2="388.07" stroke="#e8e8e8" stroke-width="0.9" />
<rect x="26.7" y="376.6" width="190.9" height="30.6" fill="none" stroke="#6e6e6e" stroke-width="0.95"/>
<line x1="64.88" y1="407.2" x2="64.88" y2="405.4" stroke="#6e6e6e" stroke-width="0.95" />
<line x1="64.88" y1="376.6" x2="64.88" y2="378.4" stroke="#6e6e6e" stroke-width="0.95" />
<line x1="103.06" y1="407.2" x2="103.06" y2="405.4" stroke="#6e6e6e" stroke-width="0.95" />
<line x1="103.06" y1="376.6" x2="103.06" y2="378.4" stroke="#6e6e6e" stroke-width="0.95" />
<line x1="141.24" y1="407.2" x2="141.24" y2="405.4" stroke="#6e6e6e" stroke-width="0.95" />
<line x1="141.24" y1="376.6" x2="141.24" y2="378.4" stroke="#6e6e6e" stroke-width="0.95" />
<line x1="179.42" y1="407.2" x2="179.42" y2="405.4" stroke="#6e6e6e" stroke-width="0.95" />
<line x1="179.42" y1="376.6" x2="179.42" y2="378.4" stroke="#6e6e6e" stroke-width="0.95" />
<line x1="26.7" y1="388.07" x2="28.5" y2="388.07" stroke="#6e6e6e" stroke-width="0.95" />
<line x1="217.6" y1="388.07" x2="215.8" y2="388.07" stroke="#6e6e6e" stroke-width="0.95" />
<path d="M26.7 376.6 L28.61 376.6 L30.52 376.6 L32.43 376.6 L34.34 376.6 L36.24 376.6 L38.15 376.6 L40.06 376.6 L41.97 376.6 L43.88 376.6 L45.79 376.6 L47.7 376.6 L49.61 376.6 L51.52 376.6 L53.43 376.6 L55.34 376.65 L57.24 376.72 L59.15 376.83 L61.06 376.94 L62.97 377.06 L64.88 377.18 L66.79 377.35 L68.7 377.52 L70.61 377.69 L72.52 377.87 L74.42 378.09 L76.33 378.31 L78.24 378.53 L80.15 378.75 L82.06 378.98 L83.97 379.21 L85.88 379.47 L87.79 379.74 L89.7 380 L91.61 380.29 L93.52 380.62 L95.42 380.96 L97.33 381.3 L99.24 381.65 L101.15 381.99 L103.06 382.33 L104.97 382.67 L106.88 383 L108.79 383.32 L110.7 383.65 L112.61 383.98 L114.51 384.31 L116.42 384.64 L118.33 384.97 L120.24 385.3 L122.15 385.63 L124.06 385.96 L125.97 386.3 L127.88 386.64 L129.79 386.97 L131.69 387.31 L133.6 387.65 L135.51 387.98 L137.42 388.32 L139.33 388.66 L141.24 388.98 L143.15 389.26 L145.06 389.53 L146.97 389.78 L148.88 390.04 L150.78 390.29 L152.69 390.54 L154.6 390.8 L156.51 391.05 L158.42 391.3 L160.33 391.55 L162.24 391.76 L164.15 391.96 L166.06 392.16 L167.97 392.37 L169.88 392.57 L171.78 392.77 L173.69 392.97 L175.6 393.18 L177.51 393.38 L179.42 393.58 L181.33 393.78 L183.24 393.98 L185.15 394.18 L187.06 394.38 L188.97 394.58 L190.87 394.78 L192.78 394.98 L194.69 395.17 L196.6 395.37 L198.51 395.57 L200.42 395.76 L202.33 395.94 L204.24 396.12 L206.15 396.31 L208.05 396.49 L209.96 396.67 L211.87 396.86 L213.78 397.04 L215.69 397.22 L217.6 397.37" fill="none" stroke="#0072BD" stroke-width="1.6" clip-path="url(#cc2)"/>
<path d="M26.7 403.49 L28.61 403.49 L30.52 403.49 L32.43 403.49 L34.34 403.49 L36.24 403.49 L38.15 403.49 L40.06 403.49 L41.97 403.49 L43.88 403.49 L45.79 403.49 L47.7 403.49 L49.61 403.49 L51.52 403.49 L53.43 403.47 L55.34 403.4 L57.24 403.31 L59.15 403.19 L61.06 402.99 L62.97 402.76 L64.88 402.52 L66.79 402.25 L68.7 401.96 L70.61 401.67 L72.52 401.38 L74.42 401.07 L76.33 400.75 L78.24 400.43 L80.15 400.11 L82.06 399.79 L83.97 399.47 L85.88 399.14 L87.79 398.82 L89.7 398.49 L91.61 398.16 L93.52 397.83 L95.42 397.5 L97.33 397.17 L99.24 396.84 L101.15 396.51 L103.06 396.18 L104.97 395.85 L106.88 395.51 L108.79 395.17 L110.7 394.84 L112.61 394.5 L114.51 394.16 L116.42 393.83 L118.33 393.49 L120.24 393.15 L122.15 392.82 L124.06 392.49 L125.97 392.17 L127.88 391.84 L129.79 391.52 L131.69 391.19 L133.6 390.87 L135.51 390.54 L137.42 390.22 L139.33 389.89 L141.24 389.57 L143.15 389.25 L145.06 388.92 L146.97 388.6 L148.88 388.28 L150.78 387.96 L152.69 387.64 L154.6 387.32 L156.51 387 L158.42 386.68 L160.33 386.35 L162.24 386.04 L164.15 385.72 L166.06 385.4 L167.97 385.08 L169.88 384.77 L171.78 384.45 L173.69 384.13 L175.6 383.81 L177.51 383.5 L179.42 383.18 L181.33 382.86 L183.24 382.54 L185.15 382.23 L187.06 381.91 L188.97 381.59 L190.87 381.27 L192.78 380.96 L194.69 380.64 L196.6 380.32 L198.51 380 L200.42 379.69 L202.33 379.38 L204.24 379.06 L206.15 378.75 L208.05 378.44 L209.96 378.12 L211.87 377.81 L213.78 377.5 L215.69 377.18 L217.6 376.93" fill="none" stroke="#D95319" stroke-width="1.45" clip-path="url(#cc2)" stroke-dasharray="4.8 4.2"/>
<text x="26.7" y="419.7" font-size="9.0" font-weight="bold" text-anchor="middle" font-family='"Liberation Sans", Arial, Helvetica, sans-serif' fill="#000" >0</text>
<text x="64.88" y="419.7" font-size="9.0" font-weight="bold" text-anchor="middle" font-family='"Liberation Sans", Arial, Helvetica, sans-serif' fill="#000" >10</text>
<text x="103.06" y="419.7" font-size="9.0" font-weight="bold" text-anchor="middle" font-family='"Liberation Sans", Arial, Helvetica, sans-serif' fill="#000" >20</text>
<text x="141.24" y="419.7" font-size="9.0" font-weight="bold" text-anchor="middle" font-family='"Liberation Sans", Arial, Helvetica, sans-serif' fill="#000" >30</text>
<text x="179.42" y="419.7" font-size="9.0" font-weight="bold" text-anchor="middle" font-family='"Liberation Sans", Arial, Helvetica, sans-serif' fill="#000" >40</text>
<text x="217.6" y="419.7" font-size="9.0" font-weight="bold" text-anchor="middle" font-family='"Liberation Sans", Arial, Helvetica, sans-serif' fill="#000" >50</text>
<text x="23.5" y="410.5" font-size="9.0" font-weight="bold" text-anchor="end" font-family='"Liberation Sans", Arial, Helvetica, sans-serif' fill="#000" >0</text>
<text x="23.5" y="391.38" font-size="9.0" font-weight="bold" text-anchor="end" font-family='"Liberation Sans", Arial, Helvetica, sans-serif' fill="#000" >50</text>
<rect x="228.8" y="380.4" width="40.8" height="22.6" fill="#fff" stroke="#6e6e6e" stroke-width="0.9"/>
<line x1="231.2" y1="386.5" x2="253.3" y2="386.5" stroke="#0072BD" stroke-width="1.3" />
<line x1="231.2" y1="396.8" x2="253.3" y2="396.8" stroke="#D95319" stroke-width="1.3" stroke-dasharray="5.5 3.5"/>
<text x="255.2" y="388.5" font-family='"Liberation Serif", "DejaVu Serif", serif' font-style="italic" font-size="8.2" fill="#000" stroke="#000" stroke-width="0.22">x<tspan font-size="6.0" dy="1.4" stroke-width="0.13">3,x</tspan></text>
<text x="255.2" y="398.8" font-family='"Liberation Serif", "DejaVu Serif", serif' font-style="italic" font-size="8.2" fill="#000" stroke="#000" stroke-width="0.22">x<tspan font-size="6.0" dy="1.4" stroke-width="0.13">3,y</tspan></text>
<line x1="26.7" y1="428.4" x2="26.7" y2="458.6" stroke="#e8e8e8" stroke-width="0.9" />
<line x1="64.88" y1="428.4" x2="64.88" y2="458.6" stroke="#e8e8e8" stroke-width="0.9" />
<line x1="103.06" y1="428.4" x2="103.06" y2="458.6" stroke="#e8e8e8" stroke-width="0.9" />
<line x1="141.24" y1="428.4" x2="141.24" y2="458.6" stroke="#e8e8e8" stroke-width="0.9" />
<line x1="179.42" y1="428.4" x2="179.42" y2="458.6" stroke="#e8e8e8" stroke-width="0.9" />
<line x1="217.6" y1="428.4" x2="217.6" y2="458.6" stroke="#e8e8e8" stroke-width="0.9" />
<line x1="26.7" y1="458.6" x2="217.6" y2="458.6" stroke="#e8e8e8" stroke-width="0.9" />
<line x1="26.7" y1="439.73" x2="217.6" y2="439.73" stroke="#e8e8e8" stroke-width="0.9" />
<rect x="26.7" y="428.4" width="190.9" height="30.2" fill="none" stroke="#6e6e6e" stroke-width="0.95"/>
<line x1="64.88" y1="458.6" x2="64.88" y2="456.8" stroke="#6e6e6e" stroke-width="0.95" />
<line x1="64.88" y1="428.4" x2="64.88" y2="430.2" stroke="#6e6e6e" stroke-width="0.95" />
<line x1="103.06" y1="458.6" x2="103.06" y2="456.8" stroke="#6e6e6e" stroke-width="0.95" />
<line x1="103.06" y1="428.4" x2="103.06" y2="430.2" stroke="#6e6e6e" stroke-width="0.95" />
<line x1="141.24" y1="458.6" x2="141.24" y2="456.8" stroke="#6e6e6e" stroke-width="0.95" />
<line x1="141.24" y1="428.4" x2="141.24" y2="430.2" stroke="#6e6e6e" stroke-width="0.95" />
<line x1="179.42" y1="458.6" x2="179.42" y2="456.8" stroke="#6e6e6e" stroke-width="0.95" />
<line x1="179.42" y1="428.4" x2="179.42" y2="430.2" stroke="#6e6e6e" stroke-width="0.95" />
<line x1="26.7" y1="439.73" x2="28.5" y2="439.73" stroke="#6e6e6e" stroke-width="0.95" />
<line x1="217.6" y1="439.73" x2="215.8" y2="439.73" stroke="#6e6e6e" stroke-width="0.95" />
<path d="M26.7 428.63 L28.61 428.63 L30.52 428.63 L32.43 428.63 L34.34 428.63 L36.24 428.63 L38.15 428.63 L40.06 428.63 L41.97 428.63 L43.88 428.63 L45.79 428.63 L47.7 428.63 L49.61 428.64 L51.52 428.69 L53.43 428.76 L55.34 428.82 L57.24 428.9 L59.15 429 L61.06 429.12 L62.97 429.23 L64.88 429.35 L66.79 429.51 L68.7 429.68 L70.61 429.85 L72.52 430.03 L74.42 430.24 L76.33 430.46 L78.24 430.68 L80.15 430.9 L82.06 431.12 L83.97 431.35 L85.88 431.61 L87.79 431.87 L89.7 432.14 L91.61 432.42 L93.52 432.74 L95.42 433.08 L97.33 433.42 L99.24 433.76 L101.15 434.1 L103.06 434.44 L104.97 434.76 L106.88 435.09 L108.79 435.41 L110.7 435.74 L112.61 436.06 L114.51 436.39 L116.42 436.71 L118.33 437.04 L120.24 437.36 L122.15 437.69 L124.06 438.02 L125.97 438.35 L127.88 438.68 L129.79 439.02 L131.69 439.35 L133.6 439.68 L135.51 440.01 L137.42 440.34 L139.33 440.68 L141.24 441 L143.15 441.27 L145.06 441.53 L146.97 441.79 L148.88 442.04 L150.78 442.29 L152.69 442.54 L154.6 442.79 L156.51 443.04 L158.42 443.29 L160.33 443.53 L162.24 443.74 L164.15 443.94 L166.06 444.14 L167.97 444.34 L169.88 444.54 L171.78 444.74 L173.69 444.94 L175.6 445.14 L177.51 445.34 L179.42 445.54 L181.33 445.73 L183.24 445.93 L185.15 446.13 L187.06 446.32 L188.97 446.52 L190.87 446.72 L192.78 446.91 L194.69 447.11 L196.6 447.31 L198.51 447.5 L200.42 447.68 L202.33 447.86 L204.24 448.05 L206.15 448.23 L208.05 448.41 L209.96 448.59 L211.87 448.77 L213.78 448.95 L215.69 449.13 L217.6 449.28" fill="none" stroke="#0072BD" stroke-width="1.6" clip-path="url(#cc3)"/>
<path d="M26.7 454.52 L28.61 454.52 L30.52 454.52 L32.43 454.52 L34.34 454.52 L36.24 454.52 L38.15 454.52 L40.06 454.52 L41.97 454.52 L43.88 454.52 L45.79 454.52 L47.7 454.52 L49.61 454.52 L51.52 454.52 L53.43 454.51 L55.34 454.43 L57.24 454.35 L59.15 454.23 L61.06 454.03 L62.97 453.81 L64.88 453.57 L66.79 453.3 L68.7 453.01 L70.61 452.73 L72.52 452.44 L74.42 452.13 L76.33 451.82 L78.24 451.5 L80.15 451.19 L82.06 450.87 L83.97 450.56 L85.88 450.23 L87.79 449.91 L89.7 449.59 L91.61 449.26 L93.52 448.94 L95.42 448.61 L97.33 448.29 L99.24 447.96 L101.15 447.64 L103.06 447.31 L104.97 446.98 L106.88 446.65 L108.79 446.32 L110.7 445.98 L112.61 445.65 L114.51 445.32 L116.42 444.99 L118.33 444.66 L120.24 444.32 L122.15 443.99 L124.06 443.67 L125.97 443.35 L127.88 443.03 L129.79 442.71 L131.69 442.39 L133.6 442.07 L135.51 441.74 L137.42 441.42 L139.33 441.1 L141.24 440.78 L143.15 440.46 L145.06 440.15 L146.97 439.83 L148.88 439.51 L150.78 439.2 L152.69 438.88 L154.6 438.56 L156.51 438.25 L158.42 437.93 L160.33 437.61 L162.24 437.3 L164.15 436.98 L166.06 436.67 L167.97 436.36 L169.88 436.04 L171.78 435.73 L173.69 435.42 L175.6 435.1 L177.51 434.79 L179.42 434.48 L181.33 434.16 L183.24 433.85 L185.15 433.54 L187.06 433.22 L188.97 432.91 L190.87 432.6 L192.78 432.28 L194.69 431.97 L196.6 431.66 L198.51 431.35 L200.42 431.03 L202.33 430.73 L204.24 430.42 L206.15 430.11 L208.05 429.8 L209.96 429.49 L211.87 429.18 L213.78 428.87 L215.69 428.56 L217.6 428.31" fill="none" stroke="#D95319" stroke-width="1.45" clip-path="url(#cc3)" stroke-dasharray="4.8 4.2"/>
<text x="26.7" y="471.1" font-size="9.0" font-weight="bold" text-anchor="middle" font-family='"Liberation Sans", Arial, Helvetica, sans-serif' fill="#000" >0</text>
<text x="64.88" y="471.1" font-size="9.0" font-weight="bold" text-anchor="middle" font-family='"Liberation Sans", Arial, Helvetica, sans-serif' fill="#000" >10</text>
<text x="103.06" y="471.1" font-size="9.0" font-weight="bold" text-anchor="middle" font-family='"Liberation Sans", Arial, Helvetica, sans-serif' fill="#000" >20</text>
<text x="141.24" y="471.1" font-size="9.0" font-weight="bold" text-anchor="middle" font-family='"Liberation Sans", Arial, Helvetica, sans-serif' fill="#000" >30</text>
<text x="179.42" y="471.1" font-size="9.0" font-weight="bold" text-anchor="middle" font-family='"Liberation Sans", Arial, Helvetica, sans-serif' fill="#000" >40</text>
<text x="217.6" y="471.1" font-size="9.0" font-weight="bold" text-anchor="middle" font-family='"Liberation Sans", Arial, Helvetica, sans-serif' fill="#000" >50</text>
<text x="23.5" y="461.9" font-size="9.0" font-weight="bold" text-anchor="end" font-family='"Liberation Sans", Arial, Helvetica, sans-serif' fill="#000" >0</text>
<text x="23.5" y="443.03" font-size="9.0" font-weight="bold" text-anchor="end" font-family='"Liberation Sans", Arial, Helvetica, sans-serif' fill="#000" >50</text>
<rect x="228.8" y="432.2" width="40.8" height="22.6" fill="#fff" stroke="#6e6e6e" stroke-width="0.9"/>
<line x1="231.2" y1="438.3" x2="253.3" y2="438.3" stroke="#0072BD" stroke-width="1.3" />
<line x1="231.2" y1="448.6" x2="253.3" y2="448.6" stroke="#D95319" stroke-width="1.3" stroke-dasharray="5.5 3.5"/>
<text x="255.2" y="440.3" font-family='"Liberation Serif", "DejaVu Serif", serif' font-style="italic" font-size="8.2" fill="#000" stroke="#000" stroke-width="0.22">x<tspan font-size="6.0" dy="1.4" stroke-width="0.13">4,x</tspan></text>
<text x="255.2" y="450.6" font-family='"Liberation Serif", "DejaVu Serif", serif' font-style="italic" font-size="8.2" fill="#000" stroke="#000" stroke-width="0.22">x<tspan font-size="6.0" dy="1.4" stroke-width="0.13">4,y</tspan></text>
<text x="122.3" y="484.3" font-size="9.7" font-weight="bold" text-anchor="middle" font-family='"Liberation Sans", Arial, Helvetica, sans-serif' fill="#000" >Time (sec)</text>
<text transform="translate(8.8 340.2) rotate(-90)" font-size="9.8" font-weight="bold" text-anchor="middle" font-family='"Liberation Sans", Arial, Helvetica, sans-serif' fill="#000" >Position (m)</text>
<text x="141.4" y="508.5" font-size="13.6" font-weight="normal" text-anchor="middle" font-family='"Liberation Serif", "DejaVu Serif", serif' fill="#000" textLength="110" lengthAdjust="spacingAndGlyphs">(<tspan font-weight="bold">c</tspan>) Robots’ position</text>
<line x1="309.6" y1="276.1" x2="309.6" y2="458.4" stroke="#e8e8e8" stroke-width="0.9" />
<line x1="356.4" y1="276.1" x2="356.4" y2="458.4" stroke="#e8e8e8" stroke-width="0.9" />
<line x1="403.2" y1="276.1" x2="403.2" y2="458.4" stroke="#e8e8e8" stroke-width="0.9" />
<line x1="450" y1="276.1" x2="450" y2="458.4" stroke="#e8e8e8" stroke-width="0.9" />
<line x1="496.8" y1="276.1" x2="496.8" y2="458.4" stroke="#e8e8e8" stroke-width="0.9" />
<line x1="543.6" y1="276.1" x2="543.6" y2="458.4" stroke="#e8e8e8" stroke-width="0.9" />
<line x1="309.6" y1="458.4" x2="543.6" y2="458.4" stroke="#e8e8e8" stroke-width="0.9" />
<line x1="309.6" y1="421.94" x2="543.6" y2="421.94" stroke="#e8e8e8" stroke-width="0.9" />
<line x1="309.6" y1="385.48" x2="543.6" y2="385.48" stroke="#e8e8e8" stroke-width="0.9" />
<line x1="309.6" y1="349.02" x2="543.6" y2="349.02" stroke="#e8e8e8" stroke-width="0.9" />
<line x1="309.6" y1="312.56" x2="543.6" y2="312.56" stroke="#e8e8e8" stroke-width="0.9" />
<line x1="309.6" y1="276.1" x2="543.6" y2="276.1" stroke="#e8e8e8" stroke-width="0.9" />
<rect x="309.6" y="276.1" width="234" height="182.3" fill="none" stroke="#505050" stroke-width="0.75"/>
<line x1="356.4" y1="458.4" x2="356.4" y2="456.1" stroke="#505050" stroke-width="0.75" />
<line x1="356.4" y1="276.1" x2="356.4" y2="278.4" stroke="#505050" stroke-width="0.75" />
<line x1="403.2" y1="458.4" x2="403.2" y2="456.1" stroke="#505050" stroke-width="0.75" />
<line x1="403.2" y1="276.1" x2="403.2" y2="278.4" stroke="#505050" stroke-width="0.75" />
<line x1="450" y1="458.4" x2="450" y2="456.1" stroke="#505050" stroke-width="0.75" />
<line x1="450" y1="276.1" x2="450" y2="278.4" stroke="#505050" stroke-width="0.75" />
<line x1="496.8" y1="458.4" x2="496.8" y2="456.1" stroke="#505050" stroke-width="0.75" />
<line x1="496.8" y1="276.1" x2="496.8" y2="278.4" stroke="#505050" stroke-width="0.75" />
<line x1="309.6" y1="421.94" x2="311.9" y2="421.94" stroke="#505050" stroke-width="0.75" />
<line x1="543.6" y1="421.94" x2="541.3" y2="421.94" stroke="#505050" stroke-width="0.75" />
<line x1="309.6" y1="385.48" x2="311.9" y2="385.48" stroke="#505050" stroke-width="0.75" />
<line x1="543.6" y1="385.48" x2="541.3" y2="385.48" stroke="#505050" stroke-width="0.75" />
<line x1="309.6" y1="349.02" x2="311.9" y2="349.02" stroke="#505050" stroke-width="0.75" />
<line x1="543.6" y1="349.02" x2="541.3" y2="349.02" stroke="#505050" stroke-width="0.75" />
<line x1="309.6" y1="312.56" x2="311.9" y2="312.56" stroke="#505050" stroke-width="0.75" />
<line x1="543.6" y1="312.56" x2="541.3" y2="312.56" stroke="#505050" stroke-width="0.75" />
<path d="M309.6 239.64 L347.04 271.18 L351.72 292.14 L356.4 313.47 L361.08 334.8 L365.76 354.49 L370.44 369.62 L375.12 381.83 L379.8 388.21 L384.48 389.31 L389.16 388.21 L393.84 380.01 L398.52 368.16 L403.2 345.37 L407.88 315.29 L412.56 285.22 L417.24 307.64 L421.92 336.26 L426.6 364.7 L431.28 393.68 L435.96 414.65 L440.64 432.88 L445.32 438.89 L450 435.61 L454.68 431.97 L459.36 416.47 L464.04 400.98 L468.72 381.83 L473.4 361.78 L478.08 333.52 L482.76 305.27 L487.44 276.1 L492.12 248.76 L543.6 239.64" fill="none" stroke="#0000ff" stroke-width="1.5" clip-path="url(#cd)" stroke-linejoin="round"/>
<path d="M309.6 239.64 L347.04 259.69 L351.72 282.66 L356.4 305.63 L361.08 328.6 L365.76 349.02 L370.44 367.25 L375.12 385.48 L379.8 398.97 L384.48 406.81 L389.16 411.55 L393.84 403.71 L398.52 390.04 L403.2 377.82 L407.88 350.84 L412.56 322.59 L417.24 289.59 L421.92 301.62 L426.6 331.52 L431.28 361.78 L435.96 387.3 L440.64 406.44 L445.32 416.47 L450 424.67 L454.68 429.05 L459.36 427.04 L464.04 412.82 L468.72 395.51 L473.4 376.37 L478.08 354.49 L482.76 326.23 L487.44 297.98 L492.12 270.63 L496.8 243.29 L543.6 239.64" fill="none" stroke="#ff0000" stroke-width="1.5" clip-path="url(#cd)" stroke-dasharray="1.1 1.1"/>
<path d="M309.6 239.64 L337.68 257.87 L342.36 279.02 L347.04 299.8 L351.72 320.22 L356.4 340.82 L361.08 359.96 L365.76 383.66 L370.44 405.53 L375.12 423.76 L379.8 435.61 L384.48 439.81 L389.16 440.17 L393.84 430.14 L398.52 411 L403.2 385.48 L407.88 358.13 L412.56 325.32 L417.24 292.51 L421.92 301.62 L426.6 320.76 L431.28 344.46 L435.96 367.8 L440.64 380.92 L445.32 389.13 L450 391.31 L454.68 392.77 L459.36 389.13 L464.04 378.19 L468.72 367.25 L473.4 349.93 L478.08 322.59 L482.76 295.24 L487.44 267.9 L543.6 239.64" fill="none" stroke="#000000" stroke-width="1.5" clip-path="url(#cd)" stroke-dasharray="5 3.6"/>
<path d="M309.6 276.1 L333 276.1 L337.68 279.75 L342.36 296.15 L347.04 311.47 L351.72 327.14 L356.4 347.2 L361.08 368.16 L365.76 386.39 L370.44 402.8 L375.12 414.65 L379.8 421.39 L384.48 417.38 L389.16 411.91 L393.84 395.51 L398.52 378.19 L403.2 358.13 L407.88 325.32 L412.56 290.14 L417.24 299.8 L421.92 325.32 L426.6 350.84 L431.28 376.37 L435.96 392.77 L440.64 403.71 L445.32 405.53 L450 400.98 L454.68 396.42 L459.36 385.48 L464.04 370.9 L468.72 350.84 L473.4 326.23 L478.08 301.62 L482.76 277.38 L487.44 252.4 L543.6 239.64" fill="none" stroke="#00ff00" stroke-width="1.5" clip-path="url(#cd)" stroke-linejoin="round"/>
<line x1="309.6" y1="440.17" x2="543.6" y2="440.17" stroke="#ff0000" stroke-width="1.35" stroke-dasharray="4.7 3.8"/>
<text x="309.6" y="471.4" font-size="8.5" font-weight="bold" text-anchor="middle" font-family='"Liberation Sans", Arial, Helvetica, sans-serif' fill="#000" >0</text>
<text x="356.4" y="471.4" font-size="8.5" font-weight="bold" text-anchor="middle" font-family='"Liberation Sans", Arial, Helvetica, sans-serif' fill="#000" >10</text>
<text x="403.2" y="471.4" font-size="8.5" font-weight="bold" text-anchor="middle" font-family='"Liberation Sans", Arial, Helvetica, sans-serif' fill="#000" >20</text>
<text x="450" y="471.4" font-size="8.5" font-weight="bold" text-anchor="middle" font-family='"Liberation Sans", Arial, Helvetica, sans-serif' fill="#000" >30</text>
<text x="496.8" y="471.4" font-size="8.5" font-weight="bold" text-anchor="middle" font-family='"Liberation Sans", Arial, Helvetica, sans-serif' fill="#000" >40</text>
<text x="543.6" y="471.4" font-size="8.5" font-weight="bold" text-anchor="middle" font-family='"Liberation Sans", Arial, Helvetica, sans-serif' fill="#000" >50</text>
<text x="306" y="461.4" font-size="8.3" font-weight="bold" text-anchor="end" font-family='"Liberation Sans", Arial, Helvetica, sans-serif' fill="#000" >0</text>
<text x="306" y="424.94" font-size="8.3" font-weight="bold" text-anchor="end" font-family='"Liberation Sans", Arial, Helvetica, sans-serif' fill="#000" >2</text>
<text x="306" y="388.48" font-size="8.3" font-weight="bold" text-anchor="end" font-family='"Liberation Sans", Arial, Helvetica, sans-serif' fill="#000" >4</text>
<text x="306" y="352.02" font-size="8.3" font-weight="bold" text-anchor="end" font-family='"Liberation Sans", Arial, Helvetica, sans-serif' fill="#000" >6</text>
<text x="306" y="315.56" font-size="8.3" font-weight="bold" text-anchor="end" font-family='"Liberation Sans", Arial, Helvetica, sans-serif' fill="#000" >8</text>
<text x="306" y="279.1" font-size="8.3" font-weight="bold" text-anchor="end" font-family='"Liberation Sans", Arial, Helvetica, sans-serif' fill="#000" >10</text>
<text x="426.6" y="484" font-size="9.5" font-weight="bold" text-anchor="middle" font-family='"Liberation Sans", Arial, Helvetica, sans-serif' fill="#000" >Time (sec)</text>
<text transform="translate(291.5 367.25) rotate(-90)" font-size="9.4" font-weight="bold" text-anchor="middle" font-family='"Liberation Sans", Arial, Helvetica, sans-serif' fill="#000" >Distance (m)</text>
<rect x="435.9" y="278.7" width="98.1" height="54.6" fill="#fff" stroke="#262626" stroke-width="0.7"/>
<line x1="438.4" y1="284.9" x2="459.4" y2="284.9" stroke="#0000ff" stroke-width="1.4" />
<text x="461.6" y="288.2" font-size="7.7" font-weight="bold" text-anchor="start" font-family='"Liberation Sans", Arial, Helvetica, sans-serif' fill="#000" >Robot 1</text>
<line x1="438.4" y1="295.47" x2="459.4" y2="295.47" stroke="#ff0000" stroke-width="1.4" stroke-dasharray="1.1 1.1"/>
<text x="461.6" y="298.77" font-size="7.7" font-weight="bold" text-anchor="start" font-family='"Liberation Sans", Arial, Helvetica, sans-serif' fill="#000" >Robot 2</text>
<line x1="438.4" y1="306.04" x2="459.4" y2="306.04" stroke="#000" stroke-width="1.4" stroke-dasharray="5 3.6"/>
<text x="461.6" y="309.34" font-size="7.7" font-weight="bold" text-anchor="start" font-family='"Liberation Sans", Arial, Helvetica, sans-serif' fill="#000" >Robot 3</text>
<line x1="438.4" y1="316.61" x2="459.4" y2="316.61" stroke="#00ff00" stroke-width="1.4" />
<text x="461.6" y="319.91" font-size="7.7" font-weight="bold" text-anchor="start" font-family='"Liberation Sans", Arial, Helvetica, sans-serif' fill="#000" >Robot 4</text>
<line x1="438.4" y1="327.18" x2="459.4" y2="327.18" stroke="#ff0000" stroke-width="1.4" stroke-dasharray="5 3.6"/>
<text x="461.6" y="330.48" font-size="7.7" font-weight="bold" text-anchor="start" font-family='"Liberation Sans", Arial, Helvetica, sans-serif' fill="#000" >Collision threshold</text>
<text x="422.3" y="507.6" font-size="13.6" font-weight="normal" text-anchor="middle" font-family='"Liberation Serif", "DejaVu Serif", serif' fill="#000" textLength="117.3" lengthAdjust="spacingAndGlyphs">(<tspan font-weight="bold">d</tspan>) Relative distance</text>
</svg>
</body></html>
